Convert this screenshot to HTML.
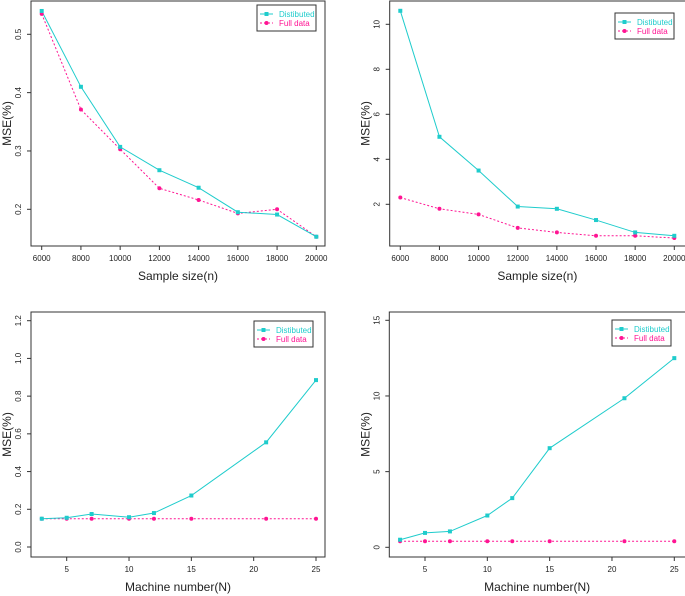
<!DOCTYPE html>
<html><head><meta charset="utf-8"><style>
html,body{margin:0;padding:0;background:#fff;}
svg{display:block;font-family:"Liberation Sans",Arial,sans-serif;}
</style></head><body>
<svg id="chart" width="685" height="596" viewBox="0 0 685 596" xmlns="http://www.w3.org/2000/svg"></svg>
<script>
const sampleSizes=[6000,8000,10000,12000,14000,16000,18000,20000];
const machineNumbers=[3,5,7,10,12,15,21,25];
const p1Dist=[0.54,0.41,0.307,0.267,0.237,0.195,0.191,0.153];
const p1Full=[0.535,0.371,0.303,0.236,0.216,0.193,0.2,0.153];
const p2Dist=[10.6,5.0,3.5,1.9,1.8,1.3,0.75,0.6];
const p2Full=[2.3,1.8,1.55,0.95,0.75,0.6,0.6,0.5];
const p3Dist=[0.15,0.155,0.175,0.158,0.18,0.273,0.555,0.885];
const p3Full=[0.15,0.15,0.15,0.15,0.15,0.15,0.15,0.15];
const p4Dist=[0.5,0.95,1.05,2.1,3.25,6.55,9.85,12.5];
const p4Full=[0.4,0.4,0.4,0.4,0.4,0.4,0.4,0.4];
const p1YTicks=[0.2,0.3,0.4,0.5];
const p2YTicks=[2,4,6,8,10];
const p3YTicks=[0.0,0.2,0.4,0.6,0.8,1.0,1.2];
const p4YTicks=[0,5,10,15];
const sampleTicks=[6000,8000,10000,12000,14000,16000,18000,20000];
const machineTicks=[5,10,15,20,25];

const NS="http://www.w3.org/2000/svg";
const svg=document.getElementById('chart');
const CY="#1fcccc", PK="#ff1493";
function mk(tag,attrs,parent,text){const e=document.createElementNS(NS,tag);for(const k in attrs)e.setAttribute(k,attrs[k]);if(text!==undefined)e.textContent=text;(parent||svg).appendChild(e);return e;}

function panel(cfg){
  const g=mk('g',{});
  
  
  const sx=v=>cfg.x0+(v-cfg.xa)*(cfg.x1-cfg.x0)/(cfg.xb-cfg.xa);
  const sy=v=>cfg.y0+(v-cfg.ya)*(cfg.y1-cfg.y0)/(cfg.yb-cfg.ya);
  const box=mk('rect',{x:cfg.bl,y:cfg.bt,width:cfg.br-cfg.bl,height:cfg.bb-cfg.bt,fill:'none',stroke:'#333','stroke-width':1},g);
  
  
  cfg.xticks.forEach(t=>{
    const x=sx(t);
    mk('line',{x1:x,x2:x,y1:cfg.bb,y2:cfg.bb+4,stroke:'#333'},g);
    const tl=mk('text',{x:x,y:cfg.bb+15,'font-size':8,'text-anchor':'middle',fill:'#222'},g,String(t));
    
    
  });
  cfg.yticks.forEach(t=>{
    const y=sy(t);
    mk('line',{x1:cfg.bl,x2:cfg.bl-4,y1:y,y2:y,stroke:'#333'},g);
    const tx=cfg.bl-10;
    const tl=mk('text',{x:tx,y:y,'font-size':8,'text-anchor':'middle',fill:'#222',transform:`rotate(-90 ${tx} ${y})`},g,cfg.yfmt(t));
    
    
  });
  const xt=mk('text',{x:(cfg.bl+Math.min(cfg.br,685))/2,y:cfg.bb+34,'font-size':12,'text-anchor':'middle',fill:'#222'},g,cfg.xtitle);
  
  
  const ytx=cfg.bl-20, yty=(cfg.bt+cfg.bb)/2;
  const yt=mk('text',{x:ytx,y:yty,'font-size':12,'text-anchor':'middle',fill:'#222',transform:`rotate(-90 ${ytx} ${yty})`},g,'MSE(%)');
  
  
  const fp=cfg.xs.map((v,i)=>sx(v)+','+sy(cfg.full[i])).join(' ');
  const fl=mk('polyline',{points:fp,fill:'none',stroke:PK,'stroke-width':1,'stroke-dasharray':'2,2'},g);
  
  
  const dp=cfg.xs.map((v,i)=>sx(v)+','+sy(cfg.dist[i])).join(' ');
  const dl=mk('polyline',{points:dp,fill:'none',stroke:CY,'stroke-width':1},g);
  
  
  cfg.xs.forEach((v,i)=>{
    const c=mk('circle',{cx:sx(v),cy:sy(cfg.full[i]),r:2,fill:PK},g);
    
    
    const s=mk('rect',{x:sx(v)-2,y:sy(cfg.dist[i])-2,width:4,height:4,fill:CY},g);
    
    
  });
  const L=cfg.leg;
  const lg=mk('g',{},g);
  
  
  mk('rect',{x:L[0],y:L[1],width:59,height:26,fill:'#fff',stroke:'#333'},lg);
  mk('line',{x1:L[0]+3,x2:L[0]+16,y1:L[1]+9,y2:L[1]+9,stroke:CY},lg);
  mk('rect',{x:L[0]+7.5,y:L[1]+7,width:4,height:4,fill:CY},lg);
  const e1=mk('text',{x:L[0]+22,y:L[1]+12,'font-size':8,fill:CY},lg,'Distibuted');
  
  
  mk('line',{x1:L[0]+3,x2:L[0]+16,y1:L[1]+18,y2:L[1]+18,stroke:PK,'stroke-dasharray':'2,2'},lg);
  mk('circle',{cx:L[0]+9.5,cy:L[1]+18,r:2,fill:PK},lg);
  const e2=mk('text',{x:L[0]+22,y:L[1]+21,'font-size':8,fill:PK},lg,'Full data');
  
  
}
const f1=t=>t.toFixed(1), f0=t=>String(t);
panel({name:'panel-mse-vs-sample-size-1',bl:31,br:325,bt:1,bb:246,x0:41.7,x1:316.3,xa:6000,xb:20000,y0:209.3,y1:34.3,ya:0.2,yb:0.5,
  xs:sampleSizes,dist:p1Dist,full:p1Full,xticks:sampleTicks,yticks:p1YTicks,yfmt:f1,xtitle:'Sample size(n)',leg:[257,5]});
panel({name:'panel-mse-vs-sample-size-2',bl:389.7,br:690,bt:1,bb:246,x0:400.3,x1:674.3,xa:6000,xb:20000,y0:204.3,y1:24.3,ya:2,yb:10,
  xs:sampleSizes,dist:p2Dist,full:p2Full,xticks:sampleTicks,yticks:p2YTicks,yfmt:f0,xtitle:'Sample size(n)',leg:[615,13]});
panel({name:'panel-mse-vs-machine-number-1',bl:31,br:325,bt:312,bb:557,x0:66.7,x1:316,xa:5,xb:25,y0:547,y1:320.7,ya:0,yb:1.2,
  xs:machineNumbers,dist:p3Dist,full:p3Full,xticks:machineTicks,yticks:p3YTicks,yfmt:f1,xtitle:'Machine number(N)',leg:[254,321]});
panel({name:'panel-mse-vs-machine-number-2',bl:389.3,br:690,bt:312,bb:557,x0:425,x1:674.3,xa:5,xb:25,y0:547.3,y1:320.3,ya:0,yb:15,
  xs:machineNumbers,dist:p4Dist,full:p4Full,xticks:machineTicks,yticks:p4YTicks,yfmt:f0,xtitle:'Machine number(N)',leg:[612,320]});
</script>
</body></html>
